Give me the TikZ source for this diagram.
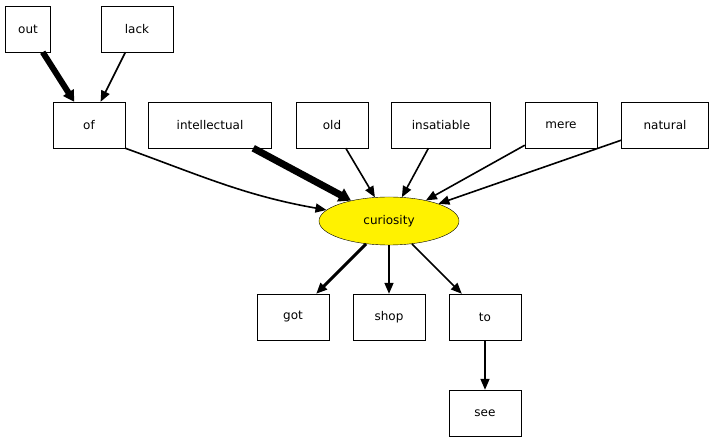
\documentclass[tikz,border=0pt]{standalone}
\usepackage{fontspec}
\setmainfont{DejaVu Sans}
\usetikzlibrary{arrows.meta,shapes.geometric}
\begin{document}
\begin{tikzpicture}[x=1pt,y=-1pt,
  box/.style={draw,fill=white,minimum height=46pt,inner sep=0pt,font=\fontsize{12}{14}\selectfont},
  e/.style={-{Triangle[length=11pt,width=9pt]},line width=1.6pt},
  thick1/.style={line width=6pt,-{Triangle[length=11pt,width=12pt]}},
  ]
\useasboundingbox (0,0) rectangle (715,443);
\node[box,minimum width=45pt] (out) at (28,29) {out};
\node[box,minimum width=72pt] (lack) at (137,29) {lack};
\node[box,minimum width=72pt] (of) at (89,125) {of};
\node[box,minimum width=123pt] (int) at (210,125) {intellectual};
\node[box,minimum width=72pt] (old) at (332,125) {old};
\node[box,minimum width=99pt] (ins) at (441,125) {insatiable};
\node[box,minimum width=72pt] (mere) at (561,125) {mere};
\node[box,minimum width=87pt] (nat) at (665,125) {natural};
\node[draw,ellipse,fill=yellow,minimum width=140pt,minimum height=48pt,inner sep=0pt,font=\fontsize{12}{14}\selectfont] (cur) at (389,221) {curiosity};
\node[box,minimum width=72pt] (got) at (293,317) {got};
\node[box,minimum width=72pt] (shop) at (389,317) {shop};
\node[box,minimum width=72pt] (to) at (485,317) {to};
\node[box,minimum width=72pt] (see) at (485,413) {see};
\draw[thick1] (out) -- (of);
\draw[e] (lack) -- (of);
\draw[e] (of.south east) to[out=-20,in=170] (cur);
\draw[line width=7pt,-{Triangle[length=12pt,width=14pt]}] (int) -- (cur);
\draw[e] (old) -- (cur);
\draw[e] (ins) -- (cur);
\draw[e] (mere) -- (cur);
\draw[e] (nat) -- (cur);
\draw[e,line width=3pt] (cur) -- (got);
\draw[e] (cur) -- (shop);
\draw[e] (cur) -- (to);
\draw[e] (to) -- (see);
\end{tikzpicture}
\end{document}
